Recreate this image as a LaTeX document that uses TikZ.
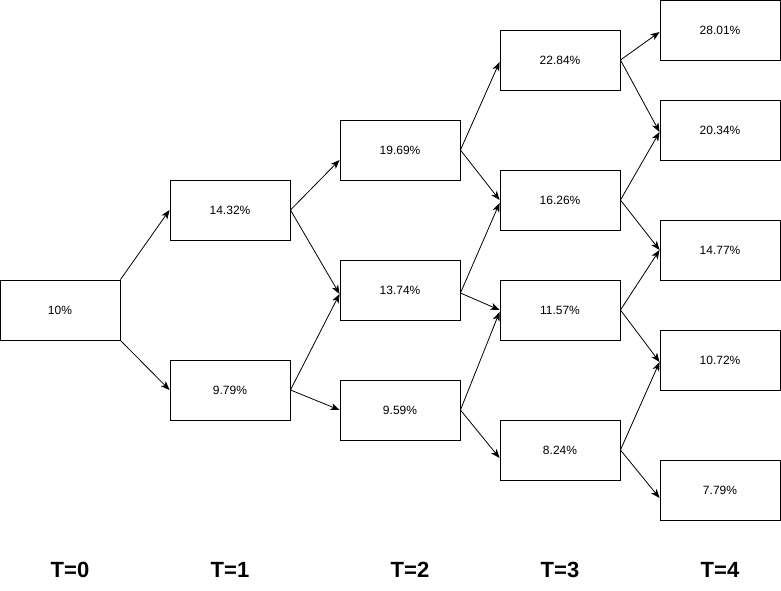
\documentclass[tikz,border=0pt]{standalone}
\usepackage{fontspec}
\setmainfont{Liberation Sans}
\usetikzlibrary{arrows.meta}
\tikzset{
  box/.style={draw=black, line width=0.9pt, minimum width=120pt, minimum height=60pt, inner sep=0pt, font=\fontsize{12}{14}\selectfont},
  tlabel/.style={inner sep=0pt, font=\fontsize{22}{26}\selectfont\bfseries},
  conn/.style={draw=black, line width=0.8pt, -{Stealth[length=9pt,width=7pt,inset=2.5pt]}}
}
\begin{document}
\begin{tikzpicture}[x=1pt,y=-1pt]
\useasboundingbox (0,0) rectangle (781,591);
% T=0
\node[box] (a) at (60,310) {10\%};
% T=1
\node[box] (b1) at (230,210) {14.32\%};
\node[box] (b2) at (230,390) {9.79\%};
% T=2
\node[box] (c1) at (400,150) {19.69\%};
\node[box] (c2) at (400,290) {13.74\%};
\node[box] (c3) at (400,410) {9.59\%};
% T=3
\node[box] (d1) at (560,60) {22.84\%};
\node[box] (d2) at (560,200) {16.26\%};
\node[box] (d3) at (560,310) {11.57\%};
\node[box] (d4) at (560,450) {8.24\%};
% T=4
\node[box] (e1) at (720,30) {28.01\%};
\node[box] (e2) at (720,130) {20.34\%};
\node[box] (e3) at (720,250) {14.77\%};
\node[box] (e4) at (720,360) {10.72\%};
\node[box] (e5) at (720,490) {7.79\%};
% labels
\node[tlabel] (t0) at (70,570) {T=0};
\node[tlabel] (t1) at (230,570) {T=1};
\node[tlabel] (t2) at (410,570) {T=2};
\node[tlabel] (t3) at (560,570) {T=3};
\node[tlabel] (t4) at (720,570) {T=4};
% connectors
\draw[conn] (a.north east) -- (b1.west);
\draw[conn] (a.south east) -- (b2.west);
\draw[conn] (b1.east) -- ([yshift=-10pt]c1.west);
\draw[conn] (b1.east) -- ([yshift=-4pt]c2.west);
\draw[conn] (b2.east) -- ([yshift=-4pt]c2.west);
\draw[conn] (b2.east) -- (c3.west);
\draw[conn] (c1.east) -- ([yshift=-2pt]d1.west);
\draw[conn] (c1.east) -- (d2.west);
\draw[conn] ([yshift=-3pt]c2.east) -- ([yshift=-3pt]d2.west);
\draw[conn] ([yshift=-3pt]c2.east) -- (d3.west);
\draw[conn] (c3.east) -- ([yshift=-2pt]d3.west);
\draw[conn] (c3.east) -- ([yshift=-8pt]d4.west);
\draw[conn] (d1.east) -- ([yshift=-2pt]e1.west);
\draw[conn] (d1.east) -- ([yshift=-2pt]e2.west);
\draw[conn] (d2.east) -- ([yshift=-2pt]e2.west);
\draw[conn] (d2.east) -- (e3.west);
\draw[conn] (d3.east) -- (e3.west);
\draw[conn] (d3.east) -- ([yshift=-2pt]e4.west);
\draw[conn] (d4.east) -- ([yshift=-2pt]e4.west);
\draw[conn] (d4.east) -- ([yshift=-8pt]e5.west);
\end{tikzpicture}
\end{document}
